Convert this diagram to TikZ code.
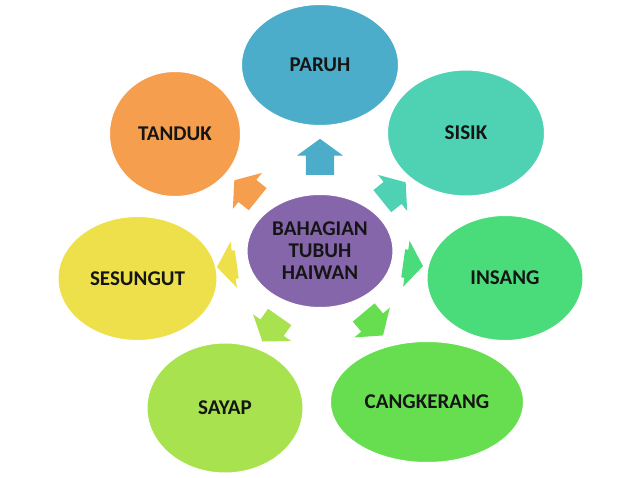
\documentclass[tikz,border=0pt]{standalone}
\usepackage{fontspec}
\setmainfont{Carlito}
\usetikzlibrary{shapes.geometric,shapes.arrows}
\definecolor{cparuh}{HTML}{4BADC9}
\definecolor{csisik}{HTML}{4FD2B3}
\definecolor{cinsang}{HTML}{4ADB7A}
\definecolor{ccang}{HTML}{66DE4F}
\definecolor{csayap}{HTML}{A8E24E}
\definecolor{csesungut}{HTML}{EEE04A}
\definecolor{ctanduk}{HTML}{F59E4E}
\definecolor{ccenter}{HTML}{8566AA}
\definecolor{ctext}{HTML}{151515}
\begin{document}
\begin{tikzpicture}[x=1pt,y=1pt,
  bubble/.style={ellipse, draw=white, line width=1pt, inner sep=0pt,
    text=ctext, font=\bfseries\fontsize{21}{22}\selectfont, align=center},
  arr/.style={single arrow, draw=none, inner xsep=0pt, inner ysep=14pt,
    single arrow head extend=9pt, single arrow tip angle=108, anchor=center}]
\path[fill=white] (0,0) rectangle (638,-478);
% outer ellipses
\node[bubble, fill=cparuh, minimum width=157pt, minimum height=121pt] (paruh) at (320,-65) {PARUH};
\node[bubble, fill=csisik, minimum width=157pt, minimum height=126pt] (sisik) at (466,-133) {SISIK};
\node[bubble, fill=cinsang, minimum width=156pt, minimum height=125pt] (insang) at (505,-278) {INSANG};
\node[bubble, fill=ccang, minimum width=193pt, minimum height=121pt] (cang) at (427,-402) {CANGKERANG};
\node[bubble, fill=csayap, minimum width=156pt, minimum height=130pt] (sayap) at (225,-408) {SAYAP};
\node[bubble, fill=csesungut, minimum width=159pt, minimum height=124pt] (sesungut) at (137.5,-278.5) {SESUNGUT};
\node[bubble, fill=ctanduk, minimum width=131pt, minimum height=125pt] (tanduk) at (175,-134) {TANDUK};
% centre
\node[bubble, fill=ccenter, minimum width=146pt, minimum height=113pt] (centre) at (320,-251) {BAHAGIAN\\TUBUH\\HAIWAN};
% arrows
\node[arr, fill=cparuh, minimum height=36pt, rotate=90] (a1) at (320,-162) {};
\node[arr, fill=csisik, minimum height=30pt, rotate=39] (a2) at (390,-195) {};
\node[arr, fill=cinsang, minimum height=20pt, rotate=-8] (a3) at (408,-264) {};
\node[arr, fill=ccang, minimum height=30pt, rotate=-50] (a4) at (370,-320) {};
\node[arr, fill=csayap, minimum height=30pt, rotate=-125] (a5) at (274,-325) {};
\node[arr, fill=csesungut, minimum height=20pt, rotate=188] (a6) at (232,-265) {};
\node[arr, fill=ctanduk, minimum height=30pt, rotate=141] (a7) at (250,-193) {};
\end{tikzpicture}
\end{document}
